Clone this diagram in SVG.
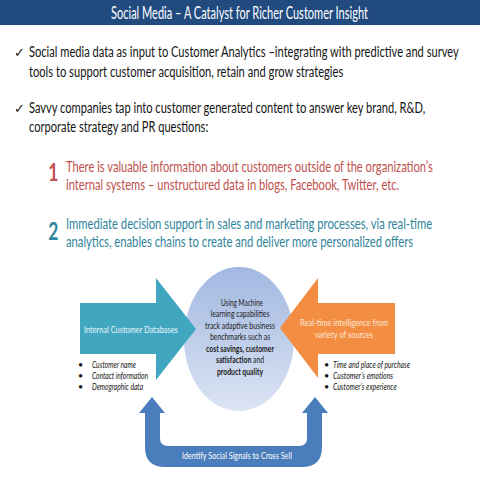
<svg xmlns="http://www.w3.org/2000/svg" width="480" height="480" viewBox="0 0 480 480">
<defs>
<style>
text{font-family:Lato,"Open Sans","Liberation Sans",sans-serif}
.s{transform:scale(0.7,1)}
.t{fill:#ffffff;font-size:16.5px}
.b{fill:#141414;font-size:15px}
.red{fill:#c0504d;font-size:14.5px}
.teal{fill:#31859c;font-size:14.5px}
.num{font-size:25px;font-weight:bold}
.el{fill:#202020;font-size:10px;text-anchor:middle}
.bold{font-weight:bold}
.bl{fill:#141414;font-size:9px;font-style:italic}
.dot{fill:#141414;font-size:9px}
.wt{font-size:10px}
.ck{font-family:"DejaVu Sans",sans-serif;font-size:13px;fill:#141414}
</style>
<linearGradient id="eg" x1="0" y1="0" x2="0" y2="1">
<stop offset="0" stop-color="#a1b8e1"/>
<stop offset="1" stop-color="#dce4f3"/>
</linearGradient>
</defs>
<rect width="480" height="480" fill="#ffffff"/>
<g id="title">
<rect x="0" y="0" width="480" height="25" fill="#214a7f"/>
<text class="t s" x="158.6" y="19" textLength="367" lengthAdjust="spacingAndGlyphs">Social Media – A Catalyst for Richer Customer Insight</text>
</g>
<g id="bullets">
<text class="ck" x="14" y="57">✓</text>
<text class="b s" x="41.4" y="57" textLength="614" lengthAdjust="spacingAndGlyphs">Social media data as input to Customer Analytics –integrating with predictive and survey</text>
<text class="b s" x="41.4" y="77" textLength="449" lengthAdjust="spacingAndGlyphs">tools to support customer acquisition, retain and grow strategies</text>
<text class="ck" x="14" y="113">✓</text>
<text class="b s" x="41.4" y="113" textLength="566" lengthAdjust="spacingAndGlyphs">Savvy companies tap into customer generated content to answer key brand, R&amp;D,</text>
<text class="b s" x="41.4" y="132" textLength="256" lengthAdjust="spacingAndGlyphs">corporate strategy and PR questions:</text>
</g>
<g id="point1">
<text class="red num s" x="69" y="181">1</text>
<text class="red s" x="94.3" y="172" textLength="524" lengthAdjust="spacingAndGlyphs">There is valuable information about customers outside of the organization’s</text>
<text class="red s" x="94.3" y="190" textLength="476" lengthAdjust="spacingAndGlyphs">internal systems – unstructured data in blogs, Facebook, Twitter, etc.</text>
</g>
<g id="point2">
<text class="teal num s" x="69" y="240">2</text>
<text class="teal s" x="94.3" y="229" textLength="523" lengthAdjust="spacingAndGlyphs">Immediate decision support in sales and marketing processes, via real-time</text>
<text class="teal s" x="94.3" y="247" textLength="496" lengthAdjust="spacingAndGlyphs">analytics, enables chains to create and deliver more personalized offers</text>
</g>
<g id="core">
<ellipse cx="239" cy="339" rx="55" ry="72" fill="url(#eg)"/>
</g>
<g id="internal">
<polygon points="80,303 156,303 156,278 196,329 156,380 156,354 80,354" fill="#41a7c1"/>
<text x="120" y="333" class="wt s" fill="#e8f5f9" textLength="134" lengthAdjust="spacingAndGlyphs">Internal Customer Databases</text>
<text class="dot" x="78" y="368">•</text>
<text class="bl s" x="131.4" y="368" textLength="63" lengthAdjust="spacingAndGlyphs">Customer name</text>
<text class="dot" x="78" y="379">•</text>
<text class="bl s" x="131.4" y="379" textLength="80" lengthAdjust="spacingAndGlyphs">Contact information</text>
<text class="dot" x="78" y="390">•</text>
<text class="bl s" x="131.4" y="390" textLength="73" lengthAdjust="spacingAndGlyphs">Demographic data</text>
</g>
<g id="external">
<polygon points="395,303 318,303 318,278 280,328 318,378 318,354 395,354" fill="#f38d42"/>
<text x="428.6" y="326" class="wt s" fill="#fde9d9" textLength="126" lengthAdjust="spacingAndGlyphs">Real-time intelligence from</text>
<text x="450" y="338" class="wt s" fill="#fde9d9" textLength="83" lengthAdjust="spacingAndGlyphs">variety of sources</text>
<text class="dot" x="324" y="368">•</text>
<text class="bl s" x="475.7" y="368" textLength="110" lengthAdjust="spacingAndGlyphs">Time and place of purchase</text>
<text class="dot" x="324" y="379">•</text>
<text class="bl s" x="475.7" y="379" textLength="86" lengthAdjust="spacingAndGlyphs">Customer’s emotions</text>
<text class="dot" x="324" y="390">•</text>
<text class="bl s" x="475.7" y="390" textLength="91" lengthAdjust="spacingAndGlyphs">Customer’s experience</text>
</g>
<g id="core-text">
<text class="el s" x="345.7" y="306" textLength="60" lengthAdjust="spacingAndGlyphs">Using  Machine</text>
<text class="el s" x="342.9" y="317.5" textLength="84" lengthAdjust="spacingAndGlyphs">learning capabilities</text>
<text class="el s" x="342.9" y="329" textLength="100" lengthAdjust="spacingAndGlyphs">track adaptive business</text>
<text class="el s" x="342.9" y="340.5" textLength="86" lengthAdjust="spacingAndGlyphs">benchmarks such as</text>
<text class="el bold s" x="342.9" y="352" textLength="97" lengthAdjust="spacingAndGlyphs">cost savings, customer</text>
<text class="el s" x="342.9" y="363.5" textLength="69" lengthAdjust="spacingAndGlyphs"><tspan class="bold">satisfaction</tspan> and</text>
<text class="el bold s" x="342.9" y="375" textLength="66" lengthAdjust="spacingAndGlyphs">product quality</text>
</g>
<g id="connectors">
<path d="M145,413 L139,413 L152,397 L165,413 L160,413 L160,438 Q160,446 168,446 L299,446 Q307,446 307,438 L307,413 L302,413 L315,397 L328,413 L322,413 L322,447 Q322,467 302,467 L165,467 Q145,467 145,447 Z" fill="#4a7dbb"/>
<text x="260" y="459.5" class="wt s" fill="#ffffff" textLength="157" lengthAdjust="spacingAndGlyphs">Identify Social Signals to Cross Sell</text>
</g>
</svg>
